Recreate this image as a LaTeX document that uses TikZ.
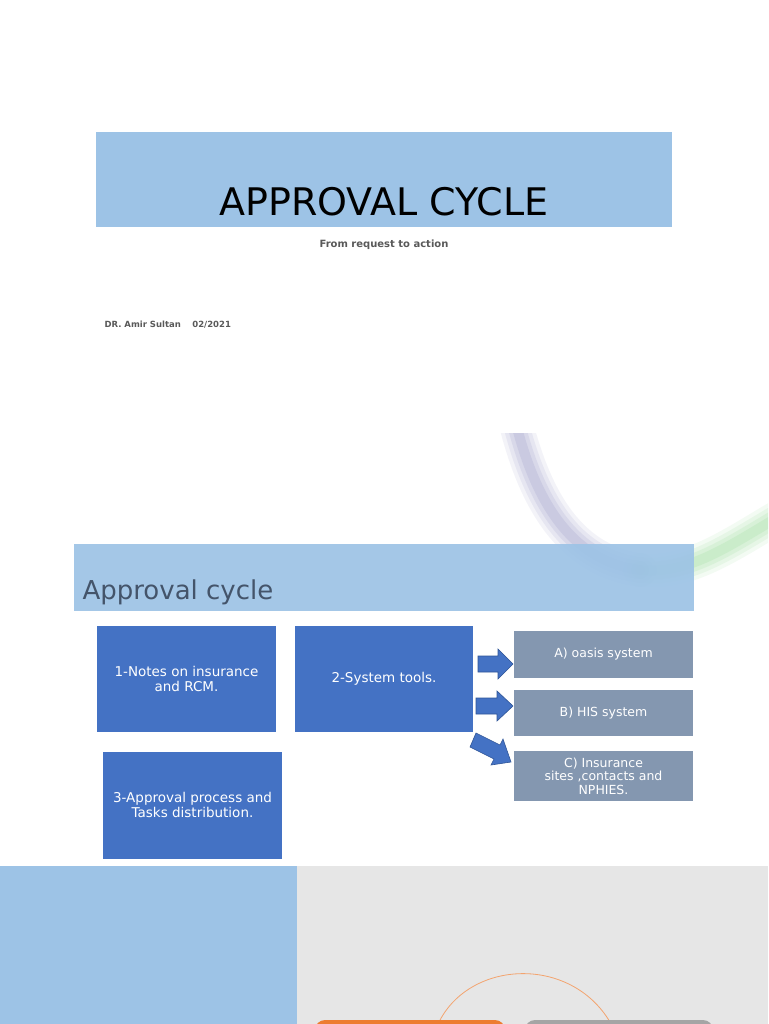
\documentclass[tikz,border=0pt]{standalone}
\usepackage{fontspec}
\setmainfont{DejaVu Sans}
\begin{document}
\begin{tikzpicture}[x=1pt,y=-1pt,
  box/.style={fill=boxblue,draw=none,text=white,align=center,inner sep=0pt,font=\fontsize{13.5}{15}\selectfont},
  gbox/.style={fill=boxgray,draw=none,text=white,align=center,inner sep=0pt,font=\fontsize{12.5}{13.5}\selectfont},
  barrow/.style={fill=boxblue,draw=arrowedge,line width=0.6pt}]
\definecolor{lightblue}{HTML}{9DC3E6}
\definecolor{boxblue}{HTML}{4472C4}
\definecolor{boxgray}{HTML}{8497B0}
\definecolor{arrowedge}{HTML}{2F5597}
\definecolor{darktext}{HTML}{44546A}
\definecolor{bggray}{HTML}{E6E6E6}
\definecolor{orng}{HTML}{ED7D31}
\definecolor{gbtn}{HTML}{A5A5A5}
\useasboundingbox (0,0) rectangle (768,1024);
\fill[white] (0,0) rectangle (768,1024);
% slide 1
\fill[lightblue] (96,132) rectangle (672,227);
\node[font=\fontsize{38}{40}\selectfont,anchor=base] (title) at (384,216) {APPROVAL CYCLE};
\node[font=\bfseries\fontsize{10}{12}\selectfont,text=black!65] (sub) at (384,245) {From request to action};
\node[font=\bfseries\fontsize{8.5}{10}\selectfont,text=black!65,anchor=west] (auth) at (101,325) {DR. Amir Sultan\quad\ 02/2021};
% swoosh
\begin{scope}
\clip (470,433) rectangle (768,620);
\foreach \w/\o in {34/0.10,26/0.12,18/0.15,10/0.18}{
  \draw[line width=\w pt,draw=blue!30!gray!70,opacity=\o,line cap=round] (515,420) .. controls (530,480) and (560,560) .. (640,570);
  \draw[line width=\w pt,draw=green!50!gray!60,opacity=\o,line cap=round] (640,570) .. controls (690,575) and (730,545) .. (790,510);
}
\end{scope}
% slide 2
\fill[lightblue,opacity=0.92] (74,544) rectangle (694,611);
\node[font=\fontsize{26}{28}\selectfont,text=darktext,anchor=west] (h2) at (79,592) {Approval cycle};
\node[box,minimum width=179,minimum height=106] (b1) at (186.5,679) {1-Notes on insurance\\and RCM.};
\node[box,minimum width=178,minimum height=106] (b2) at (384,679) {2-System tools.};
\node[box,minimum width=179,minimum height=107] (b3) at (192.5,805) {3-Approval process and\\Tasks distribution.};
\node[gbox,minimum width=179,minimum height=47] (ga) at (603.5,654) {A) oasis system};
\node[gbox,minimum width=179,minimum height=46] (gb) at (603.5,713) {B) HIS system};
\node[gbox,minimum width=179,minimum height=50] (gc) at (603.5,776) {C) Insurance\\sites ,contacts and\\NPHIES.};
\draw[barrow] (478,656)--(498,656)--(498,649)--(513,664)--(498,679)--(498,672)--(478,672)--cycle;
\draw[barrow] (476,698)--(497,698)--(497,691)--(513,706)--(497,721)--(497,714)--(476,714)--cycle;
\draw[barrow] (476,733)--(500,745)--(503,739)--(511,762)--(491,765)--(494,759)--(470,747)--cycle;
% slide 3
\fill[lightblue] (0,866) rectangle (297,1024);
\fill[bggray] (297,866) rectangle (768,1024);
\draw[orng!70,line width=0.8pt] (439,1022) .. controls (470,960) and (570,955) .. (610,1022);
\fill[orng,rounded corners=10pt] (315,1020) rectangle (505,1040);
\fill[gbtn,rounded corners=10pt] (525,1020) rectangle (713,1040);
\end{tikzpicture}
\end{document}
